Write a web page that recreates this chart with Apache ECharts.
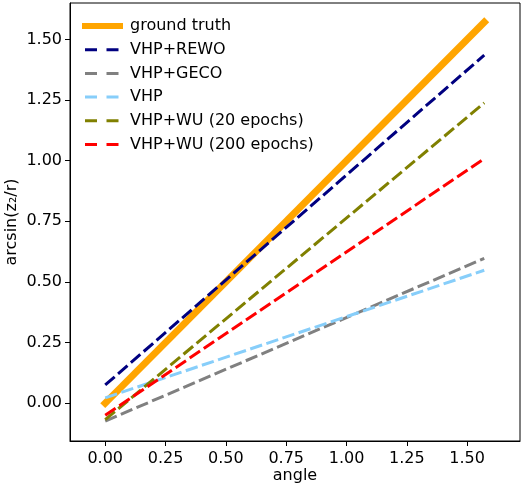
<!DOCTYPE html>
<html><head><meta charset="utf-8">
<script src="https://cdn.jsdelivr.net/npm/echarts@6/dist/echarts.min.js"></script>
<style>html,body{margin:0;padding:0;background:#fff}#c{width:524px;height:486px}</style>
</head><body><div id="c"></div>
<script>
const seriesNames = ['ground truth','VHP+REWO','VHP+GECO','VHP','VHP+WU (20 epochs)','VHP+WU (200 epochs)'];
const xStart = 0, xEnd = Math.PI/2;
const startValues = [0.0, 0.075, -0.074, 0.022, -0.068, -0.05];
const endValues = [1.5708, 1.435, 0.597, 0.548, 1.238, 1.008];
const colors = ['#FFA500','#000080','#808080','#87CEFA','#808000','#FF0000'];
const xTicks = [0, 0.25, 0.5, 0.75, 1.0, 1.25, 1.5];
const yTicks = [0, 0.25, 0.5, 0.75, 1.0, 1.25, 1.5];
const FONT = 'DejaVu Sans';
const chart = echarts.init(document.getElementById('c'));
const series = seriesNames.map((n,i)=>({
  name:n, type:'line', showSymbol:false, symbol:'none',
  data:[[xStart,startValues[i]],[xEnd,endValues[i]]],
  lineStyle: i===0 ? {color:colors[i],width:7,cap:'square'} : {color:colors[i],width:3,type:[12.5,4.5]},
  itemStyle:{color:colors[i]}, z: 2+i
}));
const legendData = seriesNames.map((n,i)=>({
  name:n,
  lineStyle: i===0 ? {color:colors[i],width:6,cap:'square'} : {color:colors[i],width:3,type:[12,9.5]}
}));
chart.setOption({
  animation:false,
  textStyle:{fontFamily:FONT},
  grid:{left:70,right:4,top:3,bottom:45,show:true,borderColor:'#000',borderWidth:1,outerBoundsMode:'none',containLabel:false},
  xAxis:{type:'value',min:-0.146,max:1.719,
    axisLine:{show:true,onZero:false,lineStyle:{color:'#000'}},
    axisTick:{show:true,length:5,customValues:xTicks,lineStyle:{color:'#000'}},
    splitLine:{show:false},
    axisLabel:{fontSize:16,color:'#000',margin:10,fontFamily:FONT,
      customValues:xTicks, formatter:v=>v.toFixed(2)},
    name:'angle',nameLocation:'middle',nameGap:27,nameMoveOverlap:false,
    nameTextStyle:{fontSize:16,color:'#000',fontFamily:FONT}},
  yAxis:{type:'value',min:-0.156,max:1.65,
    axisLine:{show:true,onZero:false,lineStyle:{color:'#000'}},
    axisTick:{show:true,length:5,customValues:yTicks,lineStyle:{color:'#000'}},
    splitLine:{show:false},
    axisLabel:{fontSize:16,color:'#000',margin:8,fontFamily:FONT,
      customValues:yTicks, formatter:v=>v.toFixed(2)},
    name:'arcsin(z₂/r)',nameLocation:'middle',nameGap:50,nameRotate:90,nameMoveOverlap:false,
    nameTextStyle:{fontSize:16,color:'#000',fontFamily:FONT}},
  legend:{orient:'vertical',left:82,top:18,padding:0,itemWidth:35,itemHeight:14,itemGap:7.7,
    data:legendData,
    itemStyle:{color:'rgba(0,0,0,0)',borderColor:'rgba(0,0,0,0)',borderWidth:0,opacity:0},
    textStyle:{fontSize:16,color:'#000',fontFamily:FONT,padding:[0,0,0,5]}},
  series:series
});
</script></body></html>
